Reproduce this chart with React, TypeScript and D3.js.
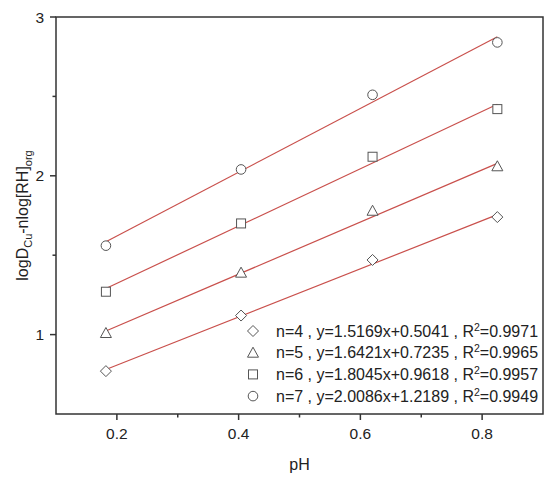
import React from 'react';
import * as d3 from 'd3';

const phValues = [0.182, 0.404, 0.62, 0.825];
const seriesN4 = [0.77, 1.12, 1.47, 1.74];
const seriesN5 = [1.01, 1.39, 1.78, 2.06];
const seriesN6 = [1.27, 1.7, 2.12, 2.42];
const seriesN7 = [1.56, 2.04, 2.51, 2.84];
const slopes = [1.5169, 1.6421, 1.8045, 2.0086];
const intercepts = [0.5041, 0.7235, 0.9618, 1.2189];
const r2Values = ['0.9971', '0.9965', '0.9957', '0.9949'];
const nLabels = ['n=4', 'n=5', 'n=6', 'n=7'];
const symbols = ['diamond', 'triangle', 'square', 'circle'];
const xTicks = [0.2, 0.4, 0.6, 0.8];
const xMinorTicks = [0.3, 0.5, 0.7];
const yTicks = [1, 2, 3];
const yMinorTicks = [1.5, 2.5];

const allSeries = [seriesN4, seriesN5, seriesN6, seriesN7];

const W = 550;
const H = 485;
const margin = { left: 56, right: 7, top: 17, bottom: 71 };

const axisColor = '#333';
const markColor = '#555';
const lineColor = '#c9504c';
const font = 'Arial, "Liberation Sans", sans-serif';

const Marker = ({ type, x, y }: { type: string; x: number; y: number }) => {
  const common = { fill: 'white', stroke: markColor, strokeWidth: 1 };
  if (type === 'diamond') {
    return <path d={`M${x},${y - 5.5}L${x + 5.5},${y}L${x},${y + 5.5}L${x - 5.5},${y}Z`} {...common} />;
  }
  if (type === 'triangle') {
    return <path d={`M${x},${y - 5.5}L${x + 5.5},${y + 4.5}L${x - 5.5},${y + 4.5}Z`} {...common} />;
  }
  if (type === 'square') {
    return <rect x={x - 4.5} y={y - 4.5} width={9} height={9} {...common} />;
  }
  return <circle cx={x} cy={y} r={4.8} {...common} />;
};

const App = () => {
  const x = d3.scaleLinear().domain([0.1, 0.9]).range([margin.left, W - margin.right]);
  const y = d3.scaleLinear().domain([0.5, 3]).range([H - margin.bottom, margin.top]);
  const x0 = margin.left;
  const x1 = W - margin.right;
  const y0 = H - margin.bottom;
  const y1 = margin.top;

  return (
    <svg width={W} height={H} style={{ position: 'absolute', left: 0, top: 0, fontFamily: font }}>
      <rect width={W} height={H} fill="white" />
      {/* fit lines */}
      {slopes.map((s, i) => {
        const xs = [phValues[0], phValues[phValues.length - 1]];
        const path = d3
          .line<number>()
          .x((d) => x(d))
          .y((d) => y(s * d + intercepts[i]))(xs);
        return <path key={i} d={path || ''} stroke={lineColor} strokeWidth={1.2} fill="none" />;
      })}
      {/* markers */}
      {allSeries.map((series, i) =>
        series.map((v, j) => <Marker key={`${i}-${j}`} type={symbols[i]} x={x(phValues[j])} y={y(v)} />)
      )}
      {/* frame */}
      <rect x={x0} y={y1} width={x1 - x0} height={y0 - y1} fill="none" stroke={axisColor} strokeWidth={1.5} />
      {/* x ticks */}
      {xTicks.map((t) => (
        <g key={t}>
          <line x1={x(t)} x2={x(t)} y1={y0} y2={y0 + 6} stroke={axisColor} strokeWidth={1.5} />
          <text x={x(t)} y={y0 + 25} textAnchor="middle" fontSize={15.5} fill="#222">
            {t.toFixed(1)}
          </text>
        </g>
      ))}
      {xMinorTicks.map((t) => (
        <line key={t} x1={x(t)} x2={x(t)} y1={y0} y2={y0 + 3.5} stroke={axisColor} strokeWidth={1.5} />
      ))}
      {/* y ticks */}
      {yTicks.map((t) => (
        <g key={t}>
          <line x1={x0 - 6} x2={x0} y1={y(t)} y2={y(t)} stroke={axisColor} strokeWidth={1.5} />
          <text x={x0 - 12} y={y(t) + 5.5} textAnchor="end" fontSize={15.5} fill="#222">
            {t}
          </text>
        </g>
      ))}
      {yMinorTicks.map((t) => (
        <line key={t} x1={x0 - 3.5} x2={x0} y1={y(t)} y2={y(t)} stroke={axisColor} strokeWidth={1.5} />
      ))}
      {/* axis titles */}
      <text x={(x0 + x1) / 2} y={470} textAnchor="middle" fontSize={16} fill="#222">
        pH
      </text>
      <text transform={`translate(28,${(y0 + y1) / 2}) rotate(-90)`} textAnchor="middle" fontSize={16} fill="#222">
        logD
        <tspan fontSize={11} dy={4}>Cu</tspan>
        <tspan dy={-4}>-nlog[RH]</tspan>
        <tspan fontSize={11} dy={4}>org</tspan>
      </text>
      {/* legend */}
      {nLabels.map((n, i) => {
        const ly = 331 + i * 21.7;
        return (
          <g key={n}>
            <Marker type={symbols[i]} x={253} y={ly} />
            <text x={276} y={ly + 5.5} fontSize={16} fill="#222">
              {`${n} , y=${slopes[i].toFixed(4)}x+${intercepts[i].toFixed(4)} , R`}
              <tspan fontSize={10.5} dy={-6}>2</tspan>
              <tspan dy={6}>{`=${r2Values[i]}`}</tspan>
            </text>
          </g>
        );
      })}
    </svg>
  );
};

export default App;
